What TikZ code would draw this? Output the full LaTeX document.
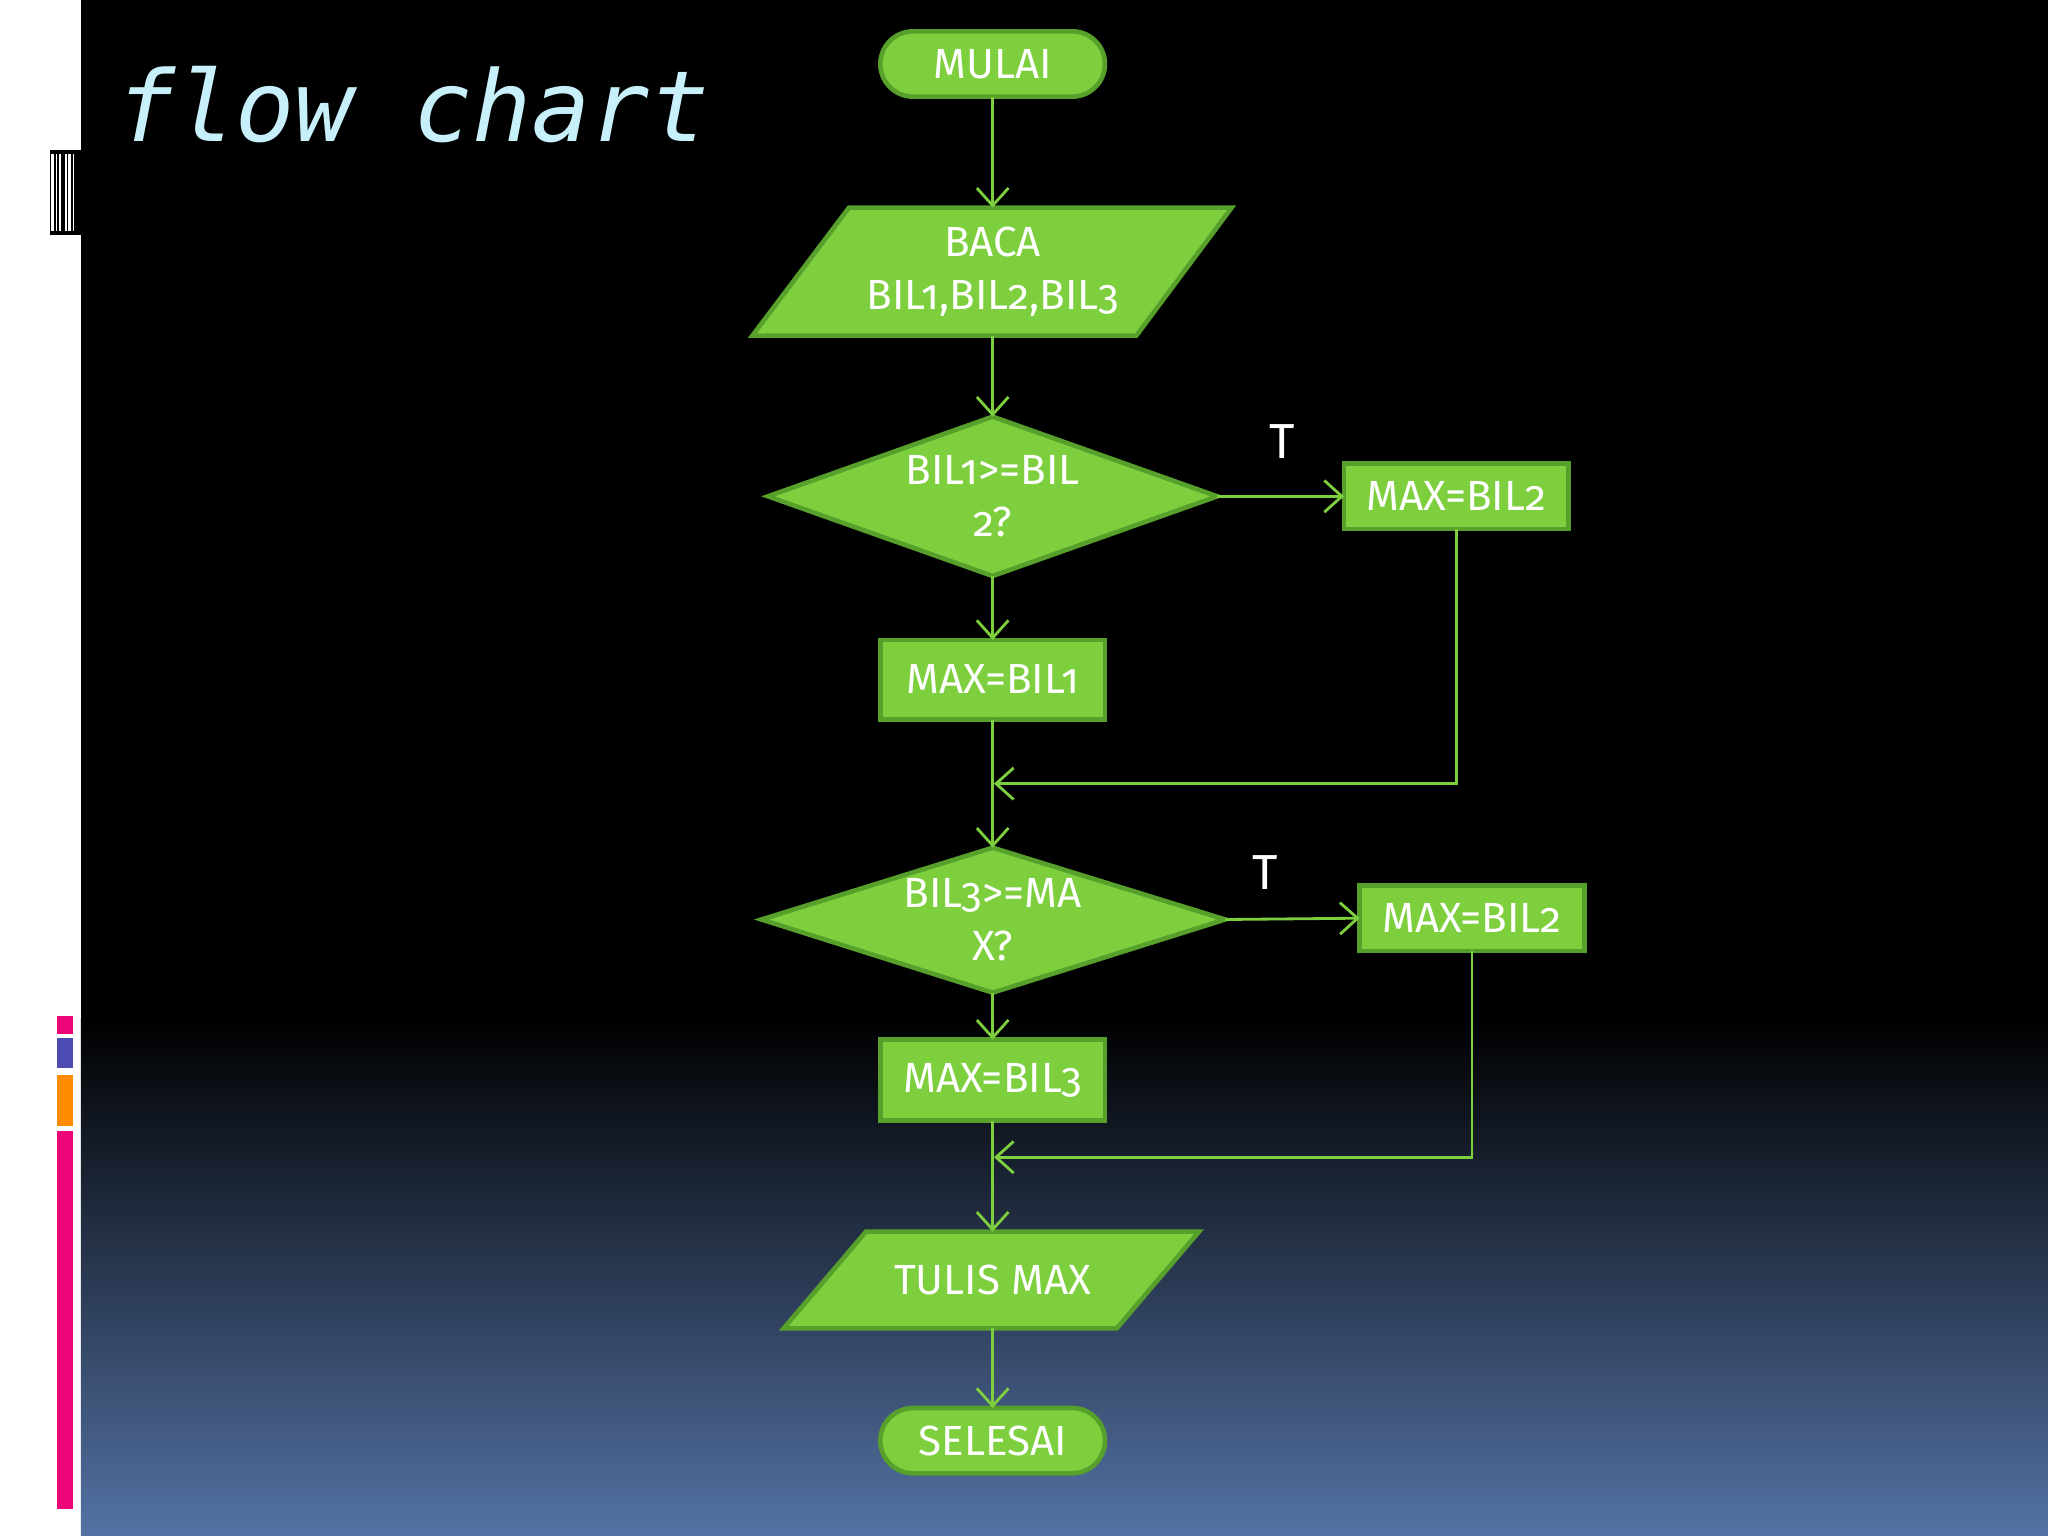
\documentclass[tikz,border=0pt]{standalone}
\usepackage{fontspec}
\setmainfont{Fira Sans}[Numbers=OldStyle]
\newfontfamily\titlefont{DejaVu Sans Mono}
\usetikzlibrary{arrows.meta}
\definecolor{gfill}{RGB}{125,207,62}
\definecolor{gline}{RGB}{88,160,44}
\definecolor{bgb}{RGB}{84,114,164}
\definecolor{tcyan}{RGB}{200,240,250}
\begin{document}
\begin{tikzpicture}[x=0.013061cm,y=-0.013061cm,
 box/.style={fill=gfill,draw=gline,line width=1.3pt},
 lbl/.style={text=white,font=\fontsize{12}{15}\selectfont,align=center},
 con/.style={draw=gfill,line width=0.8pt,-{Straight Barb[length=5pt,width=9pt]}},
 ln/.style={draw=gfill,line width=0.8pt}]
\useasboundingbox (0,0) rectangle (1568,1176);
\fill[white] (0,0) rectangle (62,1176);
\fill[black] (62,0) rectangle (1568,782);
\shade[top color=black,bottom color=bgb] (62,780) rectangle (1568,1176);
% left decorations
\foreach \x/\w in {38/1,41/2,44/1,47/3,51/1,54/2,57/5}{\fill[black] (\x,115) rectangle (\x+\w,180);}
\fill[black] (38,115) rectangle (62,118);
\fill[black] (38,177) rectangle (62,180);
\fill[magenta!80!red] (44,778) rectangle (56,792);
\fill[gray!60!blue] (44,795) rectangle (56,818);
\fill[orange!90!yellow] (44,823) rectangle (56,862);
\fill[magenta!80!red] (44,866) rectangle (56,1155);
\node[anchor=west,text=tcyan,font=\titlefont\itshape\fontsize{28}{30}\selectfont] (title) at (80,80) {flow chart};
% shapes
\draw[box,rounded corners=25*0.013061cm] (674,24) rectangle (846,74);
\node[lbl] (mulai) at (760,49) {MULAI};
\draw[box] (650,159) -- (943,159) -- (870,257) -- (576,257) -- cycle;
\node[lbl] (baca) at (760,208) {BACA\\BIL1,BIL2,BIL3};
\draw[box] (588,380) -- (760,319) -- (932,380) -- (760,441) -- cycle;
\node[lbl] (d1) at (760,380) {BIL1>=BIL\\2?};
\draw[box] (1029,355) rectangle (1201,405);
\node[lbl] (m2a) at (1115,380) {MAX=BIL2};
\draw[box] (674,490) rectangle (846,551);
\node[lbl] (m1) at (760,520) {MAX=BIL1};
\draw[box] (583,704) -- (760,649) -- (938,704) -- (760,760) -- cycle;
\node[lbl] (d2) at (760,704) {BIL3>=MA\\X?};
\draw[box] (1041,678) rectangle (1213,728);
\node[lbl] (m2b) at (1127,703) {MAX=BIL2};
\draw[box] (674,796) rectangle (846,858);
\node[lbl] (m3) at (760,827) {MAX=BIL3};
\draw[box] (663,943) -- (918,943) -- (855,1017) -- (600,1017) -- cycle;
\node[lbl] (tulis) at (760,980) {TULIS MAX};
\draw[box,rounded corners=25*0.013061cm] (674,1078) rectangle (846,1128);
\node[lbl] (selesai) at (760,1103) {SELESAI};
\node[text=white,font=\fontsize{14}{16}\selectfont] (t1) at (982,338) {T};
\node[text=white,font=\fontsize{14}{16}\selectfont] (t2) at (969,668) {T};
% connector coordinates
\coordinate (mb) at (760,74); \coordinate (bt) at (760,159);
\coordinate (bb) at (760,257); \coordinate (d1t) at (760,319);
\coordinate (d1r) at (932,380); \coordinate (m2al) at (1029,380);
\coordinate (d1b) at (760,441); \coordinate (m1t) at (760,490);
\coordinate (m1b) at (760,551); \coordinate (d2t) at (760,649);
\coordinate (m2ab) at (1115,405); \coordinate (j1) at (1115,600); \coordinate (j1e) at (761,600);
\coordinate (d2r) at (938,704); \coordinate (m2bl) at (1041,703);
\coordinate (d2b) at (760,760); \coordinate (m3t) at (760,796);
\coordinate (m3b) at (760,858); \coordinate (tt) at (760,943);
\coordinate (m2bb) at (1127,728); \coordinate (j2) at (1127,886); \coordinate (j2e) at (761,886);
\coordinate (tb) at (760,1017); \coordinate (st) at (760,1078);
\draw[con] (mb) -- (bt);
\draw[con] (bb) -- (d1t);
\draw[con] (d1r) -- (m2al);
\draw[con] (d1b) -- (m1t);
\draw[con] (m1b) -- (d2t);
\draw[con] (m2ab) -- (j1) -- (j1e);
\draw[con] (d2r) -- (m2bl);
\draw[con] (d2b) -- (m3t);
\draw[con] (m3b) -- (tt);
\draw[con] (m2bb) -- (j2) -- (j2e);
\draw[con] (tb) -- (st);
\end{tikzpicture}
\end{document}
